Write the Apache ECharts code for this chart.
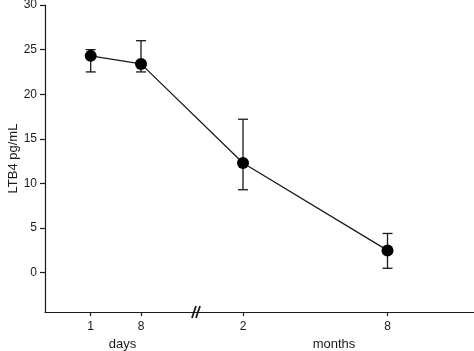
<!DOCTYPE html>
<html><head><meta charset="utf-8">
<script src="https://cdn.jsdelivr.net/npm/echarts@6/dist/echarts.min.js"></script>
<style>html,body{margin:0;padding:0;background:#fff}#c{width:474px;height:351px}</style>
</head><body><div id="c"></div>
<script>
// x positions on a schematic (broken) time axis
const tickLabels = ['1', '8', '2', '8'];
const xPositions = [0.914, 1.92, 3.96, 6.85];
const meanValues = [24.3, 23.4, 12.3, 2.5];
const lowerValues = [22.5, 22.5, 9.3, 0.5];
const upperValues = [25.0, 26.0, 17.2, 4.4];
const groupLabels = ['days', 'months'];
const groupPositions = [1.55, 5.78];
const breakPosition = 3.02;
const yTicks = [0, 5, 10, 15, 20, 25, 30];

const FONT = '"Liberation Sans", Arial, Helvetica, sans-serif';
const INK = '#1a1a1a';
const yMin = -4.4, yMax = 30, xMax = 8.58;

const chart = echarts.init(document.getElementById('c'), null, {renderer: 'canvas'});

const labelVals = xPositions.concat(groupPositions);
function xLabel(v) {
  for (let i = 0; i < xPositions.length; i++) if (Math.abs(v - xPositions[i]) < 1e-6) return tickLabels[i];
  for (let i = 0; i < groupPositions.length; i++) if (Math.abs(v - groupPositions[i]) < 1e-6) return '{g|' + groupLabels[i] + '}';
  return '';
}

chart.setOption({
  animation: false,
  backgroundColor: '#fff',
  grid: {left: 45, right: 0, top: 5, bottom: 39, containLabel: false, outerBoundsMode: 'none'},
  xAxis: {
    type: 'value', min: 0, max: xMax,
    splitLine: {show: false},
    axisLine: {show: true, onZero: false, lineStyle: {color: INK, width: 1.2}},
    axisTick: {show: true, customValues: xPositions, length: 4, lineStyle: {color: INK, width: 1.2}},
    axisLabel: {
      show: true, customValues: labelVals, margin: 9,
      color: INK, fontFamily: FONT, fontSize: 12,
      formatter: xLabel,
      rich: {g: {fontSize: 13, fontFamily: FONT, color: INK, padding: [17, 0, 0, 0]}}
    }
  },
  yAxis: {
    type: 'value', min: yMin, max: yMax,
    name: 'LTB4 pg/mL', nameLocation: 'middle', nameGap: 25, nameRotate: 90,
    nameMoveOverlap: false,
    nameTextStyle: {fontFamily: FONT, fontSize: 13, color: INK},
    splitLine: {show: false},
    axisLine: {show: true, onZero: false, lineStyle: {color: INK, width: 1.2}},
    axisTick: {show: true, customValues: yTicks, length: 5, lineStyle: {color: INK, width: 1.2}},
    axisLabel: {show: true, customValues: yTicks, margin: 8, color: INK, fontFamily: FONT, fontSize: 12}
  },
  series: [
    {
      type: 'custom',
      renderItem: function (params, api) {
        const x = api.value(0);
        const lo = api.coord([x, api.value(1)]);
        const hi = api.coord([x, api.value(2)]);
        const w = 5;
        const st = {stroke: INK, lineWidth: 1.3};
        return {type: 'group', children: [
          {type: 'line', shape: {x1: lo[0], y1: lo[1], x2: hi[0], y2: hi[1]}, style: st},
          {type: 'line', shape: {x1: lo[0] - w, y1: lo[1], x2: lo[0] + w, y2: lo[1]}, style: st},
          {type: 'line', shape: {x1: hi[0] - w, y1: hi[1], x2: hi[0] + w, y2: hi[1]}, style: st}
        ]};
      },
      data: xPositions.map((x, i) => [x, lowerValues[i], upperValues[i]]),
      z: 2
    },
    {
      type: 'line',
      data: xPositions.map((x, i) => [x, meanValues[i]]),
      symbol: 'circle', symbolSize: 12,
      lineStyle: {color: INK, width: 1.3},
      itemStyle: {color: '#000'},
      z: 3
    }
  ]
});

// axis-break mark placed via the chart's own coordinate conversion
const bp = chart.convertToPixel({gridIndex: 0}, [breakPosition, yMin]);
chart.setOption({
  graphic: [{
    type: 'group', x: bp[0], y: bp[1], z: 10,
    children: [
      {type: 'line', shape: {x1: -4, y1: 6, x2: 0, y2: -6}, style: {stroke: INK, lineWidth: 1.8}},
      {type: 'line', shape: {x1: 0, y1: 6, x2: 4, y2: -6}, style: {stroke: INK, lineWidth: 1.8}}
    ]
  }]
});
</script></body></html>
